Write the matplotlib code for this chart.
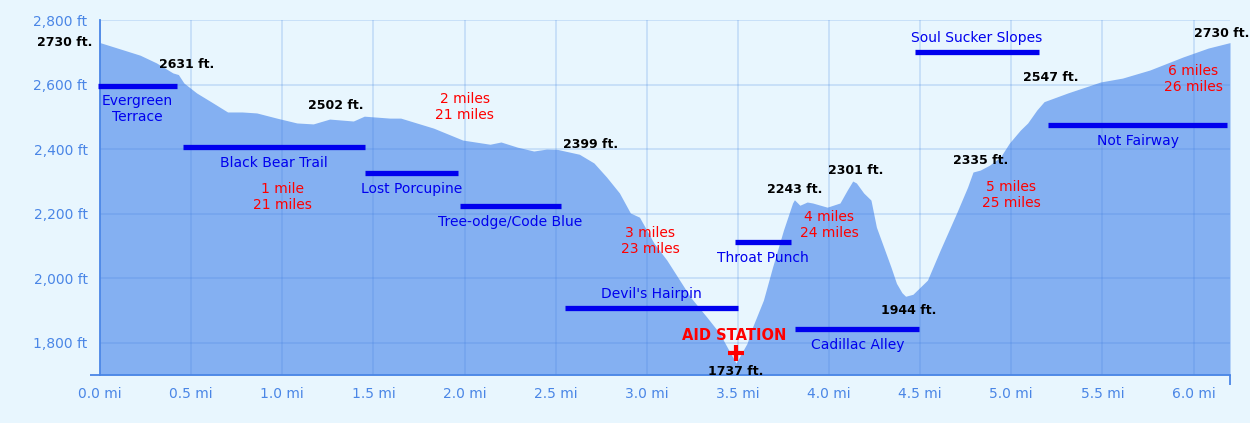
import matplotlib
matplotlib.use('Agg')
import matplotlib.pyplot as plt
from matplotlib.ticker import FuncFormatter, MultipleLocator, FixedLocator

plt.rcParams['font.family'] = ['DejaVu Sans']

# elevation profile (miles, feet)
miles = [0.00, 0.13, 0.22, 0.31, 0.40, 0.43, 0.46, 0.53, 0.62, 0.70, 0.78, 0.86,
         0.97, 1.08, 1.17, 1.26, 1.39, 1.45, 1.59, 1.65, 1.83, 1.99, 2.14, 2.20,
         2.29, 2.38, 2.45, 2.51, 2.63, 2.71, 2.78, 2.85, 2.91, 2.96, 3.04, 3.11,
         3.17, 3.24, 3.33, 3.40, 3.45, 3.49, 3.55, 3.58, 3.64, 3.69, 3.75, 3.80,
         3.81, 3.84, 3.88, 3.91, 3.99, 4.06, 4.10, 4.13, 4.15, 4.19, 4.23, 4.26,
         4.30, 4.34, 4.37, 4.40, 4.42, 4.46, 4.50, 4.54, 4.61, 4.70, 4.76, 4.79,
         4.83, 4.88, 4.94, 4.99, 5.05, 5.09, 5.14, 5.18, 5.31, 5.49, 5.61, 5.76,
         5.94, 6.08, 6.20]
elev = [2730, 2707, 2691, 2667, 2636, 2631, 2605, 2574, 2543, 2515, 2515, 2512,
        2496, 2481, 2478, 2493, 2487, 2502, 2496, 2496, 2465, 2428, 2415, 2422,
        2406, 2394, 2400, 2399, 2384, 2357, 2313, 2264, 2202, 2189, 2108, 2056,
        2003, 1941, 1879, 1829, 1777, 1737, 1798, 1848, 1932, 2034, 2149, 2233,
        2243, 2226, 2236, 2233, 2220, 2233, 2273, 2301, 2295, 2264, 2242, 2158,
        2096, 2034, 1984, 1955, 1944, 1950, 1972, 1994, 2087, 2202, 2282, 2329,
        2335, 2350, 2375, 2419, 2459, 2481, 2521, 2547, 2574, 2608, 2620, 2645,
        2685, 2713, 2730]

# trail segments
seg_names = ['Evergreen\nTerrace', 'Black Bear Trail', 'Lost Porcupine',
             'Tree-odge/Code Blue', "Devil's Hairpin", 'Throat Punch',
             'Cadillac Alley', 'Soul Sucker Slopes', 'Not Fairway']
seg_start = [-0.01, 0.455, 1.455, 1.975, 2.55, 3.485, 3.815, 4.47, 5.20]
seg_end = [0.42, 1.455, 1.965, 2.53, 3.50, 3.79, 4.495, 5.15, 6.185]
seg_level = [2595, 2406, 2325, 2223, 1907, 2112, 1842, 2700, 2474]
seg_label_above = [False, False, False, False, True, False, False, True, False]

# mile markers (lap mile / total mile)
marker_miles = [1.0, 2.0, 3.02, 4.0, 5.0, 6.0]
marker_lap = ['1 mile', '2 miles', '3 miles', '4 miles', '5 miles', '6 miles']
marker_total = ['21 miles', '21 miles', '23 miles', '24 miles', '25 miles', '26 miles']
marker_elev = [2251, 2530, 2115, 2164, 2257, 2617]

# spot elevations
spot_miles = [0.0, 0.43, 1.45, 2.51, 3.49, 3.81, 4.13, 4.42, 4.83, 5.18, 6.20]
spot_elev = [2730, 2631, 2502, 2399, 1737, 2243, 2301, 1944, 2335, 2547, 2730]
spot_offset = [(-8, 0), (8, 10), (-29, 11), (33, 5), (0, -8), (0, 10),
               (3, 11), (3, -14), (0, 10), (7, 24), (-8, 9)]

aid_mile = 3.49
aid_elev = 1737

bg = '#e8f6fe'
fill = '#84b0f2'
tick_col = '#4a86e6'
blue = '#0000ee'
red = '#ff0000'

fig = plt.figure(figsize=(12.5, 4.23), dpi=100, facecolor=bg)
ax = fig.add_axes([0.08, 0.1135, 0.904, 0.8392])
ax.set_facecolor(bg)

ax.fill_between(miles, elev, 1700, color=fill, lw=0, zorder=1)

ax.set_xlim(0, 6.2)
ax.set_ylim(1700, 2800)
ax.xaxis.set_major_locator(MultipleLocator(0.5))
ax.yaxis.set_major_locator(MultipleLocator(200))
ax.xaxis.set_major_formatter(FuncFormatter(lambda v, p: f'{v:.1f} mi'))
ax.yaxis.set_major_formatter(FuncFormatter(lambda v, p: f'{v:,.0f} ft'))
ax.grid(True, color='#3f7fe0', alpha=0.22, lw=1.2, zorder=2)
ax.set_axisbelow(False)
ax.tick_params(which='major', length=0, colors=tick_col, labelsize=10, pad=9)
ax.xaxis.set_minor_locator(FixedLocator([0, 6.2]))
ax.yaxis.set_minor_locator(FixedLocator([1700, 2800]))
ax.tick_params(which='minor', length=7, width=1.3, color=tick_col)
for s in ['top', 'right']:
    ax.spines[s].set_visible(False)
for s in ['left', 'bottom']:
    ax.spines[s].set_color(tick_col)
    ax.spines[s].set_linewidth(1.3)
    ax.spines[s].set_zorder(3)

# segment bars and names
for name, x0, x1, lvl, above in zip(seg_names, seg_start, seg_end, seg_level, seg_label_above):
    ax.plot([x0, x1], [lvl, lvl], color=blue, lw=3.8, solid_capstyle='butt',
            zorder=4, clip_on=False)
    dy = 14 if above else (-23 if '\n' in name else -16)
    ax.annotate(name, ((x0 + x1) / 2, lvl), xytext=(0, dy), textcoords='offset pixels',
                ha='center', va='center', color=blue, fontsize=10,
                linespacing=1.15, zorder=5)

# mile markers
for m, lap, tot, e in zip(marker_miles, marker_lap, marker_total, marker_elev):
    ax.text(m, e, f'{lap}\n{tot}', ha='center', va='center', color=red,
            fontsize=10, linespacing=1.2, zorder=5)

# spot elevations
for m, e, off in zip(spot_miles, spot_elev, spot_offset):
    ha = 'right' if off[0] == -8 and m == 0 else 'center'
    ax.annotate(f'{e} ft.', (m, e), xytext=off, textcoords='offset pixels',
                ha=ha, va='center', color='black', fontsize=9, fontweight='bold',
                zorder=6, annotation_clip=False)

# aid station
ax.plot(aid_mile, aid_elev + 30, marker='+', color=red, markersize=11, zorder=6,
        clip_on=False, markeredgewidth=3)
ax.annotate('AID STATION', (aid_mile, aid_elev), xytext=(-2, 28), textcoords='offset pixels',
            ha='center', va='center', color=red, fontsize=10.5, fontweight='bold', zorder=6)

fig.savefig('out.png', dpi=100, facecolor=bg)
